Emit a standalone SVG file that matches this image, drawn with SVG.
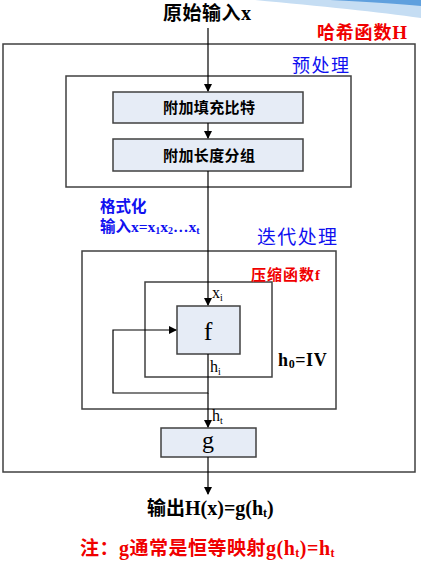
<svg xmlns="http://www.w3.org/2000/svg" width="421" height="566" viewBox="0 0 421 566">
<defs>
<style>
.box{fill:none;stroke:#404040;stroke-width:1.5}
.node{fill:#E6ECF6;stroke:#404040;stroke-width:1.5}
.ln{fill:none;stroke:#000;stroke-width:1.2}
.cjk{font-family:"Liberation Serif","Noto Sans CJK SC",serif}
.b{font-weight:bold}
.blue{fill:#1010F0}
.red{fill:#F00000}
</style>
<marker id="ah" markerWidth="8" markerHeight="8" refX="7" refY="4" orient="auto" markerUnits="userSpaceOnUse">
<path d="M0,0 L8,4 L0,8 Z" fill="#000"/>
</marker>
</defs>
<rect width="421" height="566" fill="#fff"/>
<g id="decor">
<path d="M255,0 C320,6 380,12 421,18 L421,0 Z" fill="#C5DDF3"/>
<path d="M330,0 C370,2 400,4 421,6 L421,0 Z" fill="#5FA0DE"/>
</g>
<g id="hash-box">
<rect class="box" x="3" y="44" width="412" height="428"/>
<text class="cjk b red" x="317" y="39" font-size="18" letter-spacing="0.8">哈希函数<tspan font-size="19">H</tspan></text>
</g>
<g id="pre-box">
<rect class="box" x="66" y="76" width="285" height="111"/>
<text class="cjk blue" x="292" y="72" font-size="18" textLength="57" lengthAdjust="spacing">预处理</text>
</g>
<g id="pad">
<rect class="node" x="113" y="92" width="190" height="31"/>
<text class="cjk b" x="163" y="113" font-size="15" textLength="92" lengthAdjust="spacing">附加填充比特</text>
</g>
<g id="len">
<rect class="node" x="113" y="139" width="190" height="32"/>
<text class="cjk b" x="163" y="161" font-size="15" textLength="92" lengthAdjust="spacing">附加长度分组</text>
</g>
<g id="format-label">
<text class="cjk b blue" x="100" y="212" font-size="15.5">格式化</text>
<text class="cjk b blue" x="100" y="232" font-size="15.5">输入x=x<tspan font-size="10" dy="2">1</tspan><tspan dy="-2">x</tspan><tspan font-size="10" dy="2">2</tspan><tspan dy="-2">…x</tspan><tspan font-size="10" dy="2">t</tspan></text>
</g>
<g id="iter-box">
<rect class="box" x="82" y="251" width="254" height="158"/>
<text class="cjk blue" x="257" y="244" font-size="19" textLength="80" lengthAdjust="spacing">迭代处理</text>
</g>
<g id="comp-box">
<rect class="box" x="145" y="282" width="127" height="95"/>
<text class="cjk b red" x="251" y="280" font-size="15" textLength="69" lengthAdjust="spacing">压缩函数f</text>
</g>
<g id="f">
<rect class="node" x="177" y="306" width="63" height="48"/>
<text class="cjk" x="208" y="340" font-size="26" text-anchor="middle">f</text>
</g>
<g id="iv">
<text class="cjk b" x="278" y="366" font-size="18" letter-spacing="0.6">h<tspan font-size="12" dy="2">0</tspan><tspan dy="-2">=IV</tspan></text>
</g>
<g id="g">
<rect class="node" x="161" y="428" width="95" height="29"/>
<text class="cjk" x="208" y="448" font-size="24" text-anchor="middle">g</text>
</g>
<g id="connectors">
<line class="ln" x1="208" y1="28" x2="208" y2="91" marker-end="url(#ah)"/>
<line class="ln" x1="208" y1="123" x2="208" y2="138" marker-end="url(#ah)"/>
<line class="ln" x1="208" y1="171" x2="208" y2="305" marker-end="url(#ah)"/>
<polyline class="ln" points="208,354 208,393 113,393 113,330 176,330" marker-end="url(#ah)"/>
<line class="ln" x1="208" y1="393" x2="208" y2="427" marker-end="url(#ah)"/>
<line class="ln" x1="208" y1="457" x2="208" y2="494" marker-end="url(#ah)"/>
</g>
<g id="labels">
<text class="cjk b" x="163" y="20" font-size="19" letter-spacing="0.5">原始输入<tspan font-size="20">x</tspan></text>
<text class="cjk" x="212" y="298" font-size="16">x<tspan font-size="10" dy="3">i</tspan></text>
<text class="cjk" x="210" y="372" font-size="16">h<tspan font-size="10" dy="3">i</tspan></text>
<text class="cjk" x="212" y="421" font-size="16">h<tspan font-size="10" dy="3">t</tspan></text>
<text class="cjk b" x="147" y="515" font-size="19">输出<tspan font-size="20">H(x)=g(h</tspan><tspan font-size="12" dy="2">t</tspan><tspan font-size="20" dy="-2">)</tspan></text>
<text class="cjk b red" x="80" y="555" font-size="19" letter-spacing="0.5">注：<tspan font-size="20">g</tspan>通常是恒等映射<tspan font-size="20">g(h</tspan><tspan font-size="12" dy="2">t</tspan><tspan font-size="20" dy="-2">)=h</tspan><tspan font-size="12" dy="2">t</tspan></text>
</g>
</svg>
